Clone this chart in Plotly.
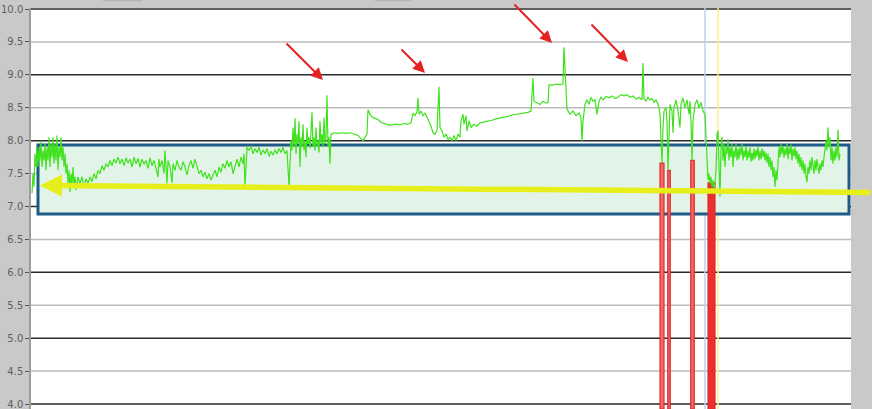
import plotly.graph_objects as go

# ---------------- data ----------------
# green pH trace: (time sample, pH)
green_readings = [
    (32, 7.2), (33, 7.5), (34, 7.3), (35, 7.8), (36, 7.6), (37, 7.9),
    (38, 7.6), (39, 7.9), (40, 7.7), (41, 8.0), (42, 7.6), (43, 7.85), (44, 7.7), (45, 7.95),
    (46, 7.55), (47, 7.9), (48, 7.7), (49, 8.05), (50, 7.6), (51, 7.95), (52, 7.75), (53, 8.05),
    (54, 7.65), (55, 7.95), (56, 7.7), (57, 8.08), (58, 7.55), (59, 7.9), (60, 7.75), (61, 8.05),
    (62, 7.7), (63, 7.9), (64, 7.6), (65, 7.8), (66, 7.5), (67, 7.65), (68, 7.35), (69, 7.55),
    (70, 7.22), (71, 7.5), (72, 7.35), (73, 7.6), (74, 7.3), (75, 7.45), (76, 7.25), (78, 7.45),
    (80, 7.35), (82, 7.45), (84, 7.3), (86, 7.42), (88, 7.35), (90, 7.45), (92, 7.38), (94, 7.5),
    (96, 7.42), (98, 7.55), (100, 7.5), (102, 7.62), (104, 7.55), (106, 7.65), (108, 7.6),
    (110, 7.7), (112, 7.62), (114, 7.72), (116, 7.66), (118, 7.75), (120, 7.65), (122, 7.72),
    (124, 7.62), (126, 7.74), (128, 7.66), (130, 7.72), (132, 7.6), (134, 7.75), (136, 7.65),
    (138, 7.73), (140, 7.6), (142, 7.72), (144, 7.64), (146, 7.7), (148, 7.58), (150, 7.74),
    (152, 7.62), (154, 7.7), (156, 7.58), (158, 7.45), (159, 7.72), (160, 7.6), (162, 7.7),
    (164, 7.5), (165, 7.85), (166, 7.55), (167, 7.35), (168, 7.7), (170, 7.6), (172, 7.36),
    (173, 7.65), (175, 7.55), (177, 7.7), (179, 7.6), (181, 7.55), (183, 7.68), (185, 7.6),
    (187, 7.48), (189, 7.62), (191, 7.7), (193, 7.58), (195, 7.72), (197, 7.6), (199, 7.5),
    (201, 7.55), (203, 7.45), (205, 7.52), (207, 7.42), (209, 7.5), (211, 7.4), (213, 7.48),
    (215, 7.55), (217, 7.45), (219, 7.6), (221, 7.52), (223, 7.65), (225, 7.58), (227, 7.7),
    (229, 7.6), (231, 7.68), (233, 7.5), (235, 7.62), (237, 7.72), (239, 7.6), (241, 7.75),
    (243, 7.65), (244, 7.8), (245, 7.3), (246, 7.7), (247, 7.9), (249, 7.85), (251, 7.92),
    (253, 7.8), (255, 7.88), (257, 7.82), (259, 7.9), (261, 7.78), (263, 7.86), (265, 7.8),
    (267, 7.88), (269, 7.76), (271, 7.84), (273, 7.78), (275, 7.86), (277, 7.8), (279, 7.88),
    (281, 7.82), (283, 7.9), (285, 7.8), (287, 7.85), (289, 7.3), (290, 7.7), (291, 8.0),
    (292, 7.85), (293, 8.2), (294, 7.9), (295, 8.34), (296, 7.8), (297, 8.1), (298, 7.95),
    (299, 8.3), (300, 7.6), (301, 8.05), (302, 7.9), (303, 8.25), (304, 7.85), (305, 8.0),
    (306, 7.75), (307, 8.2), (308, 7.95), (309, 8.05), (310, 7.88), (311, 8.15), (312, 8.43),
    (313, 7.9), (314, 8.05), (315, 7.85), (316, 8.2), (317, 7.92), (318, 8.0), (319, 7.82),
    (320, 8.3), (321, 7.95), (322, 8.1), (323, 7.9), (324, 8.35), (325, 7.95), (326, 8.05),
    (327, 8.69), (328, 7.9), (329, 8.05), (330, 7.65), (331, 8.1), (332, 8.1), (334, 8.12),
    (338, 8.11), (342, 8.12), (346, 8.11), (350, 8.12), (354, 8.1), (358, 8.08), (361, 8.03),
    (363, 8.0), (365, 8.05), (367, 8.1), (368, 8.47), (370, 8.4), (372, 8.36), (375, 8.34),
    (378, 8.32), (381, 8.28), (384, 8.26), (388, 8.24), (392, 8.24), (396, 8.25), (400, 8.24),
    (404, 8.26), (408, 8.25), (411, 8.27), (413, 8.42), (415, 8.38), (417, 8.44), (418, 8.65),
    (419, 8.4), (421, 8.45), (423, 8.38), (425, 8.42), (427, 8.36), (429, 8.3), (431, 8.22),
    (433, 8.12), (435, 8.1), (437, 8.15), (439, 8.82), (440, 8.2), (442, 8.15), (444, 8.05),
    (446, 8.1), (448, 8.02), (450, 8.05), (452, 8.0), (454, 8.08), (456, 8.0), (458, 8.1),
    (460, 8.05), (461, 8.3), (463, 8.4), (464, 8.25), (466, 8.38), (467, 8.15), (469, 8.3),
    (471, 8.2), (474, 8.25), (477, 8.22), (480, 8.27), (484, 8.28), (488, 8.3), (492, 8.31),
    (496, 8.33), (500, 8.34), (504, 8.36), (508, 8.37), (512, 8.39), (516, 8.4), (520, 8.41),
    (524, 8.42), (528, 8.43), (531, 8.45), (533, 8.95), (534, 8.6), (537, 8.58), (540, 8.55),
    (543, 8.6), (546, 8.57), (548, 8.58), (549, 8.85), (552, 8.84), (556, 8.86), (560, 8.85),
    (563, 8.86), (564, 9.42), (566, 8.6), (567, 8.48), (570, 8.4), (573, 8.45), (576, 8.38),
    (579, 8.42), (581, 8.35), (582, 8.0), (583, 8.3), (585, 8.55), (587, 8.62), (589, 8.55),
    (591, 8.66), (593, 8.6), (595, 8.62), (597, 8.4), (599, 8.6), (601, 8.66), (603, 8.62),
    (606, 8.67), (609, 8.65), (612, 8.68), (615, 8.64), (618, 8.66), (621, 8.7), (624, 8.68),
    (627, 8.7), (630, 8.66), (633, 8.68), (636, 8.63), (639, 8.66), (642, 8.62), (643, 9.18),
    (644, 8.64), (646, 8.6), (648, 8.66), (650, 8.62), (652, 8.64), (654, 8.58), (656, 8.62),
    (658, 8.55), (659, 8.5), (660, 8.4), (661, 8.0), (662, 7.66), (663, 8.2), (664, 8.45),
    (666, 8.5), (667, 8.3), (668, 7.55), (669, 8.2), (670, 8.55), (672, 8.45), (673, 8.12),
    (674, 8.5), (676, 8.62), (678, 8.45), (680, 8.2), (681, 8.55), (683, 8.65), (685, 8.5),
    (687, 8.62), (689, 8.4), (690, 8.6), (691, 8.3), (692, 7.7), (693, 8.3), (695, 8.55),
    (697, 8.62), (699, 8.5), (701, 8.58), (703, 8.45), (705, 8.4), (706, 8.0), (707, 7.55),
    (708, 7.4), (709, 7.5), (710, 7.35), (711, 7.45), (712, 7.3), (713, 7.4), (714, 7.25),
    (715, 7.35), (716, 7.55), (717, 8.1), (718, 8.15), (719, 7.6), (720, 7.15), (721, 7.9),
    (722, 8.06), (723, 7.7), (724, 7.95), (725, 7.6), (726, 7.9), (727, 7.8), (728, 8.02),
    (729, 7.7), (730, 7.9), (731, 7.75), (732, 7.95), (733, 7.6), (734, 7.85), (735, 7.75),
    (736, 7.95), (737, 7.7), (738, 7.88), (739, 7.72), (740, 7.9), (741, 7.78), (742, 7.95),
    (743, 7.7), (744, 7.85), (745, 7.75), (746, 7.92), (747, 7.7), (748, 7.85), (749, 7.74),
    (750, 7.9), (751, 7.68), (752, 7.82), (753, 7.7), (754, 7.88), (755, 7.72), (756, 7.86),
    (757, 7.76), (758, 7.92), (759, 7.7), (760, 7.84), (761, 7.72), (762, 7.88), (763, 7.75),
    (764, 7.85), (765, 7.7), (766, 7.82), (767, 7.66), (768, 7.8), (769, 7.6), (770, 7.75),
    (771, 7.55), (772, 7.7), (773, 7.45), (774, 7.6), (775, 7.3), (776, 7.55), (777, 7.4),
    (778, 7.8), (779, 7.9), (780, 7.75), (781, 7.95), (782, 7.8), (783, 7.92), (784, 7.74),
    (785, 7.88), (786, 7.78), (787, 7.96), (788, 7.72), (789, 7.9), (790, 7.8), (791, 7.94),
    (792, 7.7), (793, 7.88), (794, 7.76), (795, 7.9), (796, 7.72), (797, 7.85), (798, 7.65),
    (799, 7.8), (800, 7.6), (801, 7.75), (802, 7.55), (803, 7.7), (804, 7.5), (805, 7.65),
    (806, 7.45), (807, 7.37), (808, 7.6), (809, 7.5), (810, 7.7), (811, 7.55), (812, 7.75),
    (813, 7.6), (814, 7.5), (815, 7.7), (816, 7.55), (817, 7.72), (818, 7.6), (819, 7.5),
    (820, 7.65), (821, 7.55), (822, 7.7), (823, 7.6), (824, 7.75), (825, 7.9), (826, 8.0),
    (827, 7.85), (828, 8.2), (829, 7.9), (830, 8.05), (831, 7.7), (832, 7.9), (833, 7.65),
    (834, 7.85), (835, 7.7), (836, 7.9), (837, 7.75), (838, 8.17), (839, 7.7), (840, 7.8),
]
green_t = [p[0] for p in green_readings]
green_v = [p[1] for p in green_readings]

# red out-of-range bars
bar_t = [662, 669, 692.5, 711.5]
bar_top = [7.66, 7.55, 7.70, 7.36]
bar_w = [4, 2.5, 3.5, 7]

# axis
y_ticks = [4.0, 4.5, 5.0, 5.5, 6.0, 6.5, 7.0, 7.5, 8.0, 8.5, 9.0, 9.5, 10.0]
y_tick_text = ["4.0", "4.5", "5.0", "5.5", "6.0", "6.5", "7.0", "7.5", "8.0", "8.5", "9.0", "9.5", "10.0"]
Y_MIN, Y_MAX = 3.924, 10.0152
X_MIN, X_MAX = 31, 851

# target band (box)
band_lo, band_hi = 6.885, 7.935
band_t0, band_t1 = 38, 849

# ---------------- figure ----------------
fig = go.Figure()

base = Y_MIN
fig.add_trace(go.Bar(
    x=bar_t, y=[b - base for b in bar_top], base=base, width=bar_w,
    marker=dict(color=["#f06a6a", "#f06a6a", "#f06a6a", "#e8302e"],
                line=dict(color="#e42a2a", width=1.2)),
    showlegend=False, hoverinfo="skip"))

fig.add_trace(go.Scatter(
    x=green_t, y=green_v, mode="lines",
    line=dict(color="#3fe21c", width=1.2),
    showlegend=False))

shapes = []
# band fill (below gridlines)
shapes.append(dict(type="rect", xref="x", yref="y", x0=band_t0, x1=band_t1,
                   y0=band_lo, y1=band_hi, fillcolor="#e2f4e8", line=dict(width=0),
                   layer="below"))
# gridlines
for v in y_ticks:
    major = abs(v - round(v)) < 1e-9
    shapes.append(dict(type="line", xref="paper", yref="y", x0=0, x1=1, y0=v, y1=v,
                       line=dict(color="#2a2a2a" if major else "#bcbcbc", width=1.5),
                       layer="below"))
# band outline
shapes.append(dict(type="rect", xref="x", yref="y", x0=band_t0, x1=band_t1,
                   y0=band_lo, y1=band_hi, line=dict(color="#1c5a88", width=3),
                   layer="below"))
# cursor lines
shapes.append(dict(type="line", xref="x", yref="paper", x0=705, x1=705, y0=0, y1=1,
                   line=dict(color="#b4d6ec", width=1.5), layer="below"))
shapes.append(dict(type="line", xref="x", yref="paper", x0=718, x1=718, y0=0, y1=1,
                   line=dict(color="#f4f38c", width=1.5), layer="below"))
# top toolbar tabs
for x0, x1 in [(0.0878, 0.1354), (0.4195, 0.4634)]:
    shapes.append(dict(type="rect", xref="paper", yref="paper", x0=x0, x1=x1,
                       y0=1.0170, y1=1.0225, fillcolor="#b2b2b2", line=dict(width=0)))

annotations = []
# yellow arrow
annotations.append(dict(x=40, y=7.32, xref="x", yref="y", ax=832, ay=7,
                        axref="pixel", ayref="pixel", text="", showarrow=True,
                        arrowhead=2, arrowsize=0.8, arrowwidth=5.5, arrowcolor="#e6ef1a"))
# red arrows
for (tx, ty, ax, ay) in [(323, 8.921, -38, -38), (425, 9.028, -25, -25),
                         (552, 9.484, -39, -40), (628, 9.195, -38, -39)]:
    annotations.append(dict(x=tx, y=ty, xref="x", yref="y", ax=ax, ay=ay,
                            text="", showarrow=True, arrowhead=2, arrowsize=1.2,
                            arrowwidth=2, arrowcolor="#e42222"))

fig.update_layout(
    width=872, height=409,
    margin=dict(l=31, r=21, t=8, b=0, pad=0),
    paper_bgcolor="#c9c9c9", plot_bgcolor="#ffffff",
    shapes=shapes, annotations=annotations,
    barmode="overlay", showlegend=False,
    xaxis=dict(range=[X_MIN, X_MAX], visible=False, showgrid=False, zeroline=False),
    yaxis=dict(range=[Y_MIN, Y_MAX], tickvals=y_ticks, ticktext=y_tick_text,
               showgrid=False, zeroline=False, ticks="outside", ticklen=4,
               tickcolor="#555555", tickwidth=1, ticklabeloverflow="allow",
               showline=True, linecolor="#9c9c9c", linewidth=1.5,
               tickfont=dict(family="DejaVu Sans", size=10, color="#606060")),
)

fig.write_html("out.html", config={"displayModeBar": False},
               post_script="document.body.style.margin='0';document.body.style.overflow='hidden';")
